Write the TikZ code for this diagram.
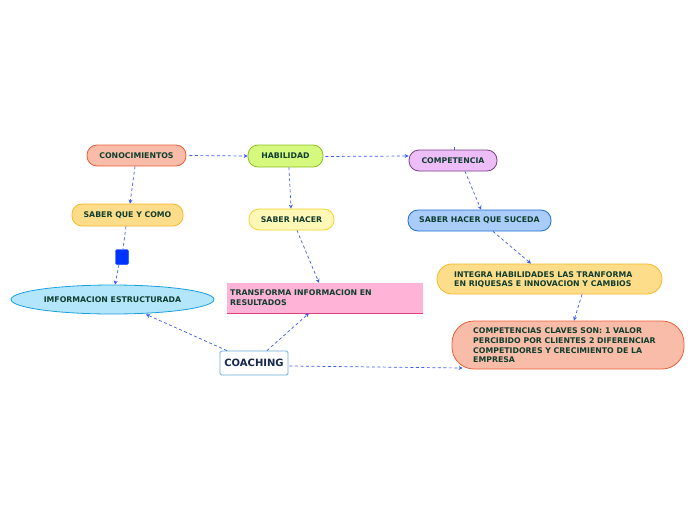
\documentclass[tikz,border=0pt]{standalone}
\usepackage{fontspec}
\setmainfont{DejaVu Sans}
\usetikzlibrary{arrows.meta,shapes.geometric}
\definecolor{txt}{HTML}{0F3D2E}
\definecolor{lnk}{HTML}{3B5BF0}
\definecolor{salF}{HTML}{F8BCA8}\definecolor{salD}{HTML}{EA5F3A}
\definecolor{grnF}{HTML}{D5F87E}\definecolor{grnD}{HTML}{8CC21E}
\definecolor{vioF}{HTML}{EDBDF8}\definecolor{vioD}{HTML}{7A3F86}
\definecolor{yelF}{HTML}{FEDD8A}\definecolor{yelD}{HTML}{F5B829}
\definecolor{ltyF}{HTML}{FFF7B5}\definecolor{ltyD}{HTML}{F0D430}
\definecolor{bluF}{HTML}{A9CDF8}\definecolor{bluD}{HTML}{1E6DD0}
\definecolor{cyaF}{HTML}{B3E6FA}\definecolor{cyaD}{HTML}{1AA0E0}
\definecolor{pnkF}{HTML}{FFB3D6}\definecolor{pnkD}{HTML}{E0407A}
\definecolor{coaD}{HTML}{6AAAD8}\definecolor{coaT}{HTML}{16284E}
\definecolor{sqF}{HTML}{0033FF}
\tikzset{
  lbl/.style={text=txt, font=\fontsize{7.8}{9.4}\selectfont\bfseries},
  pill/.style={draw, rounded corners=10pt, line width=0.8pt, inner sep=0pt, lbl},
  link/.style={draw=lnk, dashed, dash pattern=on 3pt off 2.5pt, line width=0.7pt},
  arr/.style={link, -{Stealth[length=4pt,width=4pt]}}
}
\begin{document}
\begin{tikzpicture}[x=1pt,y=-1pt]
\useasboundingbox (0,0) rectangle (696,520);
\node[pill, fill=salF, draw=salD, minimum width=99pt, minimum height=21pt] (con) at (136.5,155.5) {CONOCIMIENTOS};
\node[pill, fill=grnF, draw=grnD, minimum width=75pt, minimum height=22pt] (hab) at (285.5,156) {HABILIDAD};
\node[pill, fill=vioF, draw=vioD, minimum width=88pt, minimum height=21pt] (comp) at (453,160.5) {COMPETENCIA};
\node[pill, fill=yelF, draw=yelD, minimum width=111pt, minimum height=22pt] (sqc) at (127.5,215) {SABER QUE Y COMO};
\node[pill, fill=ltyF, draw=ltyD, minimum width=85pt, minimum height=21pt] (sh) at (291.5,219.5) {SABER HACER};
\node[pill, fill=bluF, draw=bluD, minimum width=143pt, minimum height=21pt] (shq) at (479.5,220.5) {SABER HACER QUE SUCEDA};
\node[draw=sqF, fill=sqF, rounded corners=1.5pt, minimum width=13pt, minimum height=15pt, inner sep=0pt] (sq) at (122,257) {};
\node[ellipse, draw=cyaD, fill=cyaF, line width=0.8pt, minimum width=203pt, minimum height=29pt, inner sep=0pt, lbl] (inf) at (112.5,299.5) {IMFORMACION ESTRUCTURADA};
\node[fill=pnkF, minimum width=196pt, minimum height=30pt, inner sep=0pt] (tr) at (325,298) {};
\draw[pnkD, line width=0.8pt] (tr.south west) -- (tr.south east);
\node[anchor=west, align=left, inner sep=0pt, lbl] (trt) at (230,297.5) {TRANSFORMA INFORMACION EN\\RESULTADOS};
\node[draw=coaD, fill=white, line width=0.8pt, rounded corners=1.5pt, minimum width=68pt, minimum height=24pt, inner sep=0pt, text=coaT, font=\fontsize{10}{12}\selectfont\bfseries] (coa) at (254,363) {COACHING};
\node[pill, rounded corners=15pt, fill=yelF, draw=yelD, minimum width=225pt, minimum height=30pt] (int) at (549.5,279) {};
\node[anchor=west, align=left, inner sep=0pt, lbl] (intt) at (454,279.5) {INTEGRA HABILIDADES LAS TRANFORMA\\EN RIQUESAS E INNOVACION Y CAMBIOS};
\node[pill, rounded corners=22pt, fill=salF, draw=salD, minimum width=232pt, minimum height=48pt] (cc) at (568,345) {};
\node[anchor=west, align=left, inner sep=0pt, lbl, font=\fontsize{7.8}{9.7}\selectfont\bfseries] (cct) at (473,345.5) {COMPETENCIAS CLAVES SON: 1 VALOR\\PERCIBIDO POR CLIENTES 2 DIFERENCIAR\\COMPETIDORES Y CRECIMIENTO DE LA\\EMPRESA};
% connectors
\draw[arr] ([xshift=3pt]con.east) -- (hab.west);
\draw[arr] ([xshift=2pt,yshift=-0.5pt]hab.east) -- ([yshift=4.5pt]comp.west);
\draw[arr] ([xshift=-1.5pt]con.south) -- ([xshift=2.5pt]sqc.north);
\draw[arr] ([xshift=3.5pt]hab.south) -- ([xshift=-0.5pt]sh.north);
\draw[arr] ([xshift=12pt]comp.south) -- ([xshift=1.5pt]shq.north);
\draw[link] ([xshift=-1.5pt]sqc.south) -- ([xshift=1pt]sq.north);
\draw[arr] ([xshift=-3pt]sq.south) -- ([xshift=2.5pt]inf.north);
\draw[arr] ([xshift=5.5pt]sh.south) -- ([xshift=-6pt]tr.north);
\draw[arr] ([xshift=13.5pt]shq.south) -- ([xshift=-18.5pt]int.north);
\draw[arr] ([xshift=32.5pt]int.south) -- ([xshift=6pt]cc.north);
\draw[arr] ([xshift=-27pt]coa.north) -- ([xshift=33.5pt]inf.south);
\draw[arr] ([xshift=13pt]coa.north) -- ([xshift=-16pt]tr.south);
\draw[arr] ([xshift=1pt,yshift=-3pt]coa.east) -- ([xshift=11pt,yshift=-23pt]cc.west);
\coordinate (stub) at (454,146.5);
\draw[lnk, line width=0.7pt] (stub) -- (comp.north -| stub);
\end{tikzpicture}
\end{document}
